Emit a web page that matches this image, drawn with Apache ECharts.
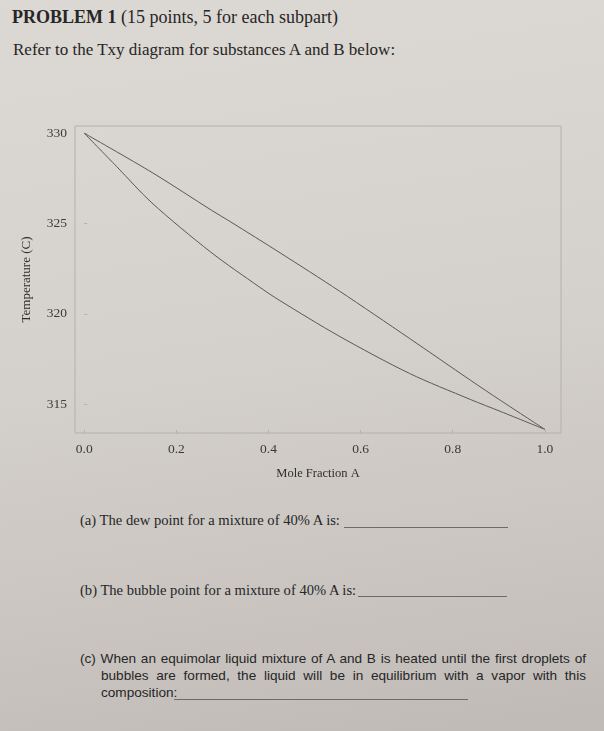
<!DOCTYPE html>
<html>
<head>
<meta charset="utf-8">
<script src="https://cdn.jsdelivr.net/npm/echarts@6/dist/echarts.min.js"></script>
<style>
  html, body { margin: 0; padding: 0; }
  body {
    width: 604px; height: 731px; overflow: hidden; position: relative;
    background: linear-gradient(172deg, #dcd8d3 0%, #d5d1cc 45%, #c9c4c0 80%, #bfbab6 100%);
    color: #262626;
  }
  .t { position: absolute; white-space: nowrap; font-family: "Liberation Serif", "DejaVu Serif", serif; }
  .s { position: absolute; white-space: nowrap; font-family: "Liberation Sans", Arial, sans-serif; }
  .ul { position: absolute; height: 0; border-top: 1px solid #6d6a67; }
  #chart { position: absolute; left: 0; top: 90px; width: 604px; height: 400px; }
</style>
</head>
<body>
<div class="t" style="left:12px; top:6px; font-size:18px; line-height:22px;"><b>PROBLEM 1</b> (15 points, 5 for each subpart)</div>
<div class="t" style="left:13px; top:39px; font-size:17px; line-height:22px;">Refer to the Txy diagram for substances A and B below:</div>

<div id="chart"></div>

<div class="t" style="left:80px; top:510px; font-size:14.6px; line-height:20px;">(a) The dew point for a mixture of 40% A is:</div>
<div class="ul" style="left:344px; top:527px; width:164px;"></div>
<div class="t" style="left:80px; top:580px; font-size:14.6px; line-height:20px;">(b) The bubble point for a mixture of 40% A is:</div>
<div class="ul" style="left:358px; top:596px; width:149px;"></div>

<div class="s" style="left:80px; top:650px; width:506px; font-size:13.6px; line-height:17px; text-align:justify; text-align-last:justify; white-space:normal;">(c) When an equimolar liquid mixture of A and B is heated until the first droplets of</div>
<div class="s" style="left:101px; top:667px; width:485px; font-size:13.6px; line-height:17px; text-align:justify; text-align-last:justify; white-space:normal;">bubbles are formed, the liquid will be in equilibrium with a vapor with this</div>
<div class="s" style="left:101px; top:684px; font-size:13.6px; line-height:17px;">composition:</div>
<div class="ul" style="left:174px; top:699px; width:294px;"></div>

<script>
// Dew point curve (vapor, upper line): mole fraction A vs temperature
var dewX = [0, 0.149, 0.276, 0.318, 0.425, 0.554, 0.706, 0.838, 0.904, 1.0];
var dewT = [330, 327.80, 325.74, 325.09, 323.38, 321.26, 318.64, 316.33, 315.20, 313.6];
// Bubble point curve (liquid, lower line)
var bubX = [0, 0.071, 0.147, 0.274, 0.380, 0.423, 0.553, 0.706, 0.838, 0.905, 1.0];
var bubT = [330, 328.14, 326.14, 323.43, 321.49, 320.76, 318.77, 316.70, 315.26, 314.58, 313.6];
// Tick labels
var xTicks = [0, 0.2, 0.4, 0.6, 0.8, 1.0];
var yTicks = [315, 320, 325, 330];

function pairs(xs, ys) { return xs.map(function (x, i) { return [x, ys[i]]; }); }

var chart = echarts.init(document.getElementById('chart'), null, { renderer: 'canvas' });
var labelFont = { fontFamily: 'Liberation Serif', fontSize: 13.5, color: '#3a3a3a' };
chart.setOption({
  backgroundColor: 'transparent',
  animation: false,
  grid: { left: 75, top: 36, width: 486, height: 307, show: true, borderColor: '#b4b0ab', borderWidth: 1, backgroundColor: 'transparent' },
  xAxis: {
    type: 'value', min: -0.02, max: 1.035,
    name: 'Mole Fraction A', nameLocation: 'middle', nameGap: 34,
    nameTextStyle: { fontFamily: 'Liberation Serif', fontSize: 12.5, color: '#2e2e2e' },
    axisLine: { show: false },
    axisTick: { show: true, inside: true, length: 3, customValues: xTicks, lineStyle: { color: '#b4b0ab' } },
    splitLine: { show: false },
    axisLabel: Object.assign({ customValues: xTicks, margin: 9, formatter: function (v) { return v.toFixed(1); } }, labelFont)
  },
  yAxis: {
    type: 'value', min: 313.4, max: 330.4,
    name: 'Temperature (C)', nameLocation: 'middle', nameGap: 42, nameRotate: 90,
    nameTextStyle: { fontFamily: 'Liberation Serif', fontSize: 13, color: '#2e2e2e' },
    axisLine: { show: false },
    axisTick: { show: true, inside: true, length: 3, customValues: yTicks, lineStyle: { color: '#b4b0ab' } },
    splitLine: { show: false },
    axisLabel: Object.assign({ customValues: yTicks, margin: 8 }, labelFont)
  },
  series: [
    { name: 'Dew', type: 'line', data: pairs(dewX, dewT), showSymbol: false, smooth: 0.3,
      lineStyle: { color: '#5a5856', width: 1 } },
    { name: 'Bubble', type: 'line', data: pairs(bubX, bubT), showSymbol: false, smooth: 0.3,
      lineStyle: { color: '#5a5856', width: 1 } }
  ]
});
</script>
</body>
</html>
